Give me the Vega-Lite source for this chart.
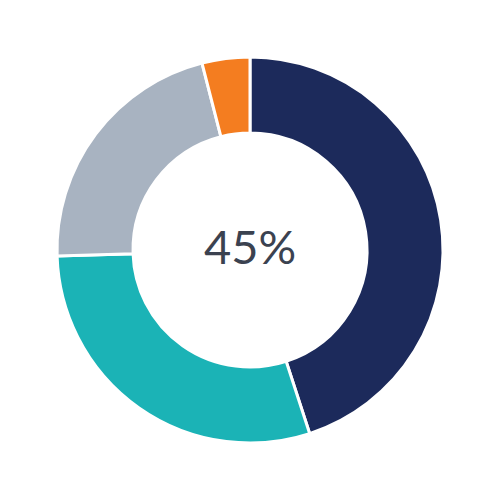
{
  "$schema": "https://vega.github.io/schema/vega-lite/v6.json",
  "description": "Donut chart - 45%",
  "width": 500,
  "height": 500,
  "autosize": {"type": "fit", "contains": "padding"},
  "padding": 0,
  "background": "#ffffff",
  "view": {"stroke": null},
  "data": {
    "values": [
      {"category": "A", "value": 45, "order": 0},
      {"category": "B", "value": 29.5, "order": 1},
      {"category": "C", "value": 21.5, "order": 2},
      {"category": "D", "value": 4, "order": 3}
    ]
  },
  "layer": [
    {
      "mark": {
        "type": "arc",
        "innerRadius": 117,
        "outerRadius": 193,
        "stroke": "#ffffff",
        "strokeWidth": 3
      },
      "encoding": {
        "theta": {"field": "value", "type": "quantitative", "stack": true},
        "order": {"field": "order", "type": "ordinal"},
        "color": {
          "field": "category",
          "type": "nominal",
          "legend": null,
          "scale": {
            "domain": ["A", "B", "C", "D"],
            "range": ["#1c2a5b", "#1bb3b6", "#a8b3c1", "#f47d20"]
          }
        }
      }
    },
    {
      "data": {"values": [{"label": "45%"}]},
      "mark": {
        "type": "text",
        "font": "Lato",
        "fontSize": 47,
        "fontWeight": 400,
        "color": "#3b4250",
        "align": "center",
        "baseline": "middle"
      },
      "encoding": {
        "text": {"field": "label", "type": "nominal"}
      }
    }
  ]
}
